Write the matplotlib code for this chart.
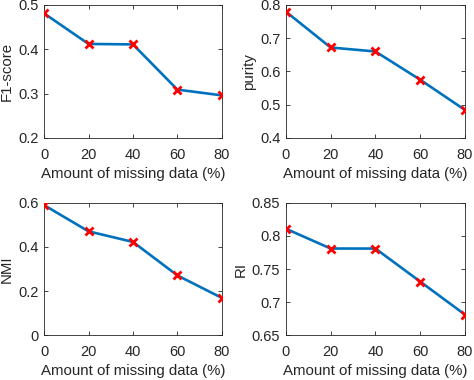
import matplotlib
matplotlib.use("Agg")
import matplotlib.pyplot as plt

plt.rcParams['font.family'] = ['Liberation Sans', 'DejaVu Sans']

x = [0, 20, 40, 60, 80]
f1 = [0.481, 0.412, 0.411, 0.309, 0.296]
purity = [0.78, 0.672, 0.66, 0.575, 0.484]
nmi = [0.59, 0.471, 0.423, 0.271, 0.169]
ri = [0.811, 0.781, 0.781, 0.731, 0.681]

xlabel = "Amount of missing data (%)"
panels = [
    (f1, "F1-score", (0.2, 0.5), [0.2, 0.3, 0.4, 0.5], ["0.2", "0.3", "0.4", "0.5"]),
    (purity, "purity", (0.4, 0.8), [0.4, 0.5, 0.6, 0.7, 0.8], ["0.4", "0.5", "0.6", "0.7", "0.8"]),
    (nmi, "NMI", (0, 0.6), [0, 0.2, 0.4, 0.6], ["0", "0.2", "0.4", "0.6"]),
    (ri, "RI", (0.65, 0.85), [0.65, 0.7, 0.75, 0.8, 0.85], ["0.65", "0.7", "0.75", "0.8", "0.85"]),
]

positions = [
    [0.093, 0.637, 0.375, 0.350],
    [0.603, 0.637, 0.378, 0.350],
    [0.093, 0.118, 0.375, 0.348],
    [0.603, 0.118, 0.378, 0.348],
]

fig = plt.figure(figsize=(4.74, 3.8), dpi=100)
txtc = '#262626'
for (vals, ylab, ylim, yt, ytl), pos in zip(panels, positions):
    ax = fig.add_axes(pos)
    ax.plot(x, vals, color=(0, 0.447, 0.741), linewidth=1.9, zorder=2)
    ax.plot(x, vals, linestyle='none', marker='x', color='#ff0000',
            markersize=6, markeredgewidth=2, zorder=3)
    ax.set_xlim(0, 80)
    ax.set_ylim(*ylim)
    ax.set_xticks(x)
    ax.set_xticklabels([str(v) for v in x])
    ax.set_yticks(yt)
    ax.set_yticklabels(ytl)
    ax.tick_params(direction='in', top=True, right=True, length=3,
                   labelsize=10.5, colors=txtc, width=0.6)
    ax.tick_params(axis='x', pad=7)
    ax.tick_params(axis='y', pad=4)
    for s in ax.spines.values():
        s.set_color(txtc)
        s.set_linewidth(0.6)
    ax.set_xlabel(xlabel, fontsize=10.8, color=txtc, labelpad=4)
    ax.set_ylabel(ylab, fontsize=10.8, color=txtc, labelpad=3)

fig.savefig("out.png", dpi=100)
